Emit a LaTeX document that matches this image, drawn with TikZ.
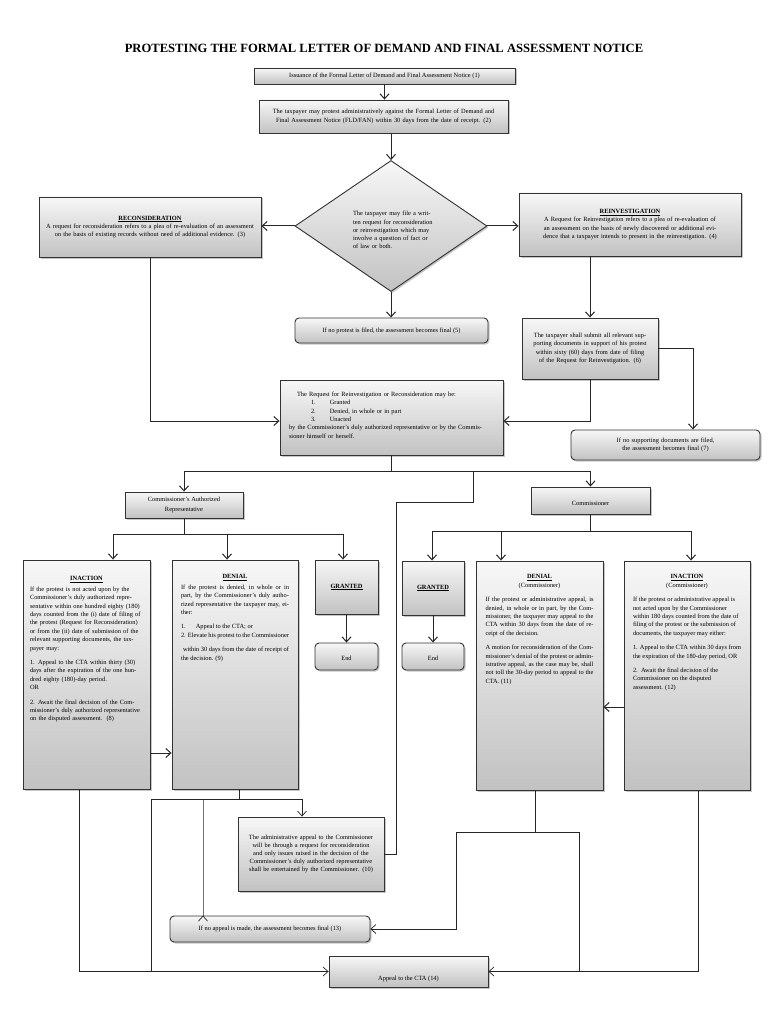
\documentclass[tikz,border=0pt]{standalone}
\usepackage{fontspec}
\setmainfont{Liberation Serif}
\usetikzlibrary{shapes.geometric,shadows,arrows.meta}
\begin{document}
\begin{tikzpicture}[x=1pt,y=-1pt,
  box/.style={draw=black!80,line width=0.9pt,shading=axis,top color=gray!6,bottom color=gray!48,
    drop shadow={opacity=0.45,shadow xshift=1.5pt,shadow yshift=-1.5pt},inner sep=0pt},
  rbox/.style={box,rounded corners=4pt},
  txt/.style={font=\fontsize{6.4}{8.2}\selectfont,align=center,inner sep=0pt},
  jtxt/.style={font=\fontsize{6.4}{8.4}\selectfont,align=justify,inner sep=0pt,anchor=north},
  ltxt/.style={font=\fontsize{6.4}{8.4}\selectfont,align=left,inner sep=0pt,anchor=north},
  arr/.style={-{Straight Barb[length=5pt,width=9pt]},line width=1pt,black!85},
  ln/.style={line width=1pt,black!85},
  tarr/.style={-{Straight Barb[length=5pt,width=9pt]},line width=0.7pt,black!85},
  tln/.style={line width=0.7pt,black!85}]
\useasboundingbox (0,0) rectangle (768,1024);
\node[font=\fontsize{12.6}{14}\selectfont\bfseries] (title) at (384,48) {PROTESTING THE FORMAL LETTER OF DEMAND AND FINAL ASSESSMENT NOTICE};

\node[box,minimum width=261,minimum height=16] (b1) at (384.5,76) {};
\node[txt] at (b1) {Issuance of the Formal Letter of Demand and Final Assessment Notice (1)};
\node[box,minimum width=249,minimum height=33] (b2) at (383.5,116.5) {};
\node[txt,text width=236] at (b2) {The taxpayer may protest administratively against the Formal Letter of Demand and Final Assessment Notice (FLD/FAN) within 30 days from the date of receipt. (2)};
\node[shape=diamond,aspect=1.47,minimum width=192,minimum height=131,box] (dia) at (391,226) {};
\node[txt,text width=80,align=left] at (393,230) {The taxpayer may file a written request for reconsideration or reinvestigation which may involve a question of fact or of law or both.};
\node[box,minimum width=222,minimum height=60] (recon) at (150,227) {};
\node[txt,text width=212] at (recon) {\underline{\textbf{RECONSIDERATION}}\\A request for reconsideration refers to a plea of re-evaluation of an assessment on the basis of existing records without need of additional evidence. (3)};
\node[box,minimum width=222,minimum height=63] (reinv) at (630,224.5) {};
\node[txt,text width=175] at (reinv) {\underline{\textbf{REINVESTIGATION}}\\A Request for Reinvestigation refers to a plea of re-evaluation of an assessment on the basis of newly discovered or additional evidence that a taxpayer intends to present in the reinvestigation. (4)};
\node[rbox,minimum width=193,minimum height=25] (b5) at (391.5,330.5) {};
\node[txt] at (b5) {If no protest is filed, the assessment becomes final (5)};
\node[box,minimum width=136,minimum height=61] (b6) at (590,348.5) {};
\node[txt,text width=126] at (b6) {The taxpayer shall submit all relevant supporting documents in support of his protest within sixty (60) days from date of filing of the Request for Reinvestigation. (6)};
\node[rbox,minimum width=189,minimum height=30] (b7) at (665.5,445) {};
\node[txt,text width=180] at (b7) {If no supporting documents are filed, the assessment becomes final (7)};
\node[box,minimum width=223,minimum height=75] (may) at (391.5,417.5) {};
\node[ltxt,text width=205] at ([yshift=-12]may.north) {\hspace*{8pt}The Request for Reinvestigation or Reconsideration may be:\\
\hspace*{22pt}1.\hspace{14pt}Granted\\
\hspace*{22pt}2.\hspace{14pt}Denied, in whole or in part\\
\hspace*{22pt}3.\hspace{14pt}Unacted\\
by the Commissioner's duly authorized representative or by the Commissioner himself or herself.};

\node[box,minimum width=118,minimum height=26] (car) at (184,505) {};
\node[txt] at (car) {Commissioner's Authorized\\[2pt]Representative};
\node[box,minimum width=119,minimum height=27] (comm) at (590.5,500.5) {};
\node[txt] at ([yshift=-3]comm) {Commissioner};

\node[box,minimum width=127,minimum height=229] (ina1) at (86.5,674.5) {};
\node[ltxt,text width=113] at ([yshift=-17]ina1.north) {\centerline{\underline{\textbf{INACTION}}}\\[2pt]If the protest is not acted upon by the Commissioner's duly authorized representative within one hundred eighty (180) days counted from the (i) date of filing of the protest (Request for Reconsideration) or from the (ii) date of submission of the relevant supporting documents, the taxpayer may:\\[6pt]1. Appeal to the CTA within thirty (30) days after the expiration of the one hundred eighty (180)-day period.\\OR\\[6pt]2. Await the final decision of the Commissioner's duly authorized representative on the disputed assessment.\ \ (8)};
\node[box,minimum width=126,minimum height=229] (den1) at (235,674.5) {};
\node[jtxt,text width=108] at ([yshift=-15]den1.north) {\centerline{\underline{\textbf{DENIAL}}}\\[2pt]If the protest is denied, in whole or in part, by the Commissioner's duly authorized representative the taxpayer may, either:\\[6pt]1.\hspace{10pt}Appeal to the CTA; or\\2. Elevate his protest to the Commissioner\\[6pt]\hspace*{2pt}within 30 days from the date of receipt of the decision. (9)};
\node[box,minimum width=63,minimum height=54] (gr1) at (346.5,587) {};
\node[txt] at (gr1) {\underline{\textbf{GRANTED}}};
\node[rbox,minimum width=63,minimum height=27] (end1) at (346.5,656.5) {};
\node[txt] at ([yshift=-2]end1) {End};
\node[box,minimum width=62,minimum height=54] (gr2) at (433,588) {};
\node[txt] at (gr2) {\underline{\textbf{GRANTED}}};
\node[rbox,minimum width=62,minimum height=27] (end2) at (433,656.5) {};
\node[txt] at ([yshift=-2]end2) {End};
\node[box,minimum width=127,minimum height=229] (den2) at (539.5,675.5) {};
\node[jtxt,text width=108] at ([yshift=-14]den2.north) {\centerline{\underline{\textbf{DENIAL}}}\\\centerline{(Commissioner)}\\[6pt]If the protest or administrative appeal, is denied, in whole or in part, by the Commissioner, the taxpayer may appeal to the CTA within 30 days from the date of receipt of the decision.\\[6pt]A motion for reconsideration of the Commissioner's denial of the protest or administrative appeal, as the case may be, shall not toll the 30-day period to appeal to the CTA. (11)};
\node[box,minimum width=126,minimum height=229] (ina2) at (687,675.5) {};
\node[jtxt,text width=108] at ([yshift=-14]ina2.north) {\centerline{\underline{\textbf{INACTION}}}\\\centerline{(Commissioner)}\\[6pt]If the protest or administrative appeal is not acted upon by the Commissioner within 180 days counted from the date of filing of the protest or the submission of documents, the taxpayer may either:\\[6pt]{\raggedright 1. Appeal to the CTA within 30 days from the expiration of the 180-day period, OR\\[6pt]2.\ \ Await the final decision of the Commissioner on the disputed assessment. (12)\par}};

\node[box,minimum width=146,minimum height=74] (b10) at (311,854) {};
\node[txt,text width=128] at (b10) {The administrative appeal to the Commissioner will be through a request for reconsideration and only issues raised in the decision of the Commissioner's duly authorized representative shall be entertained by the Commissioner. (10)};
\node[rbox,minimum width=200,minimum height=26] (b13) at (270,929) {};
\node[txt] at (b13) {If no appeal is made, the assessment becomes final (13)};
\node[box,minimum width=159,minimum height=31] (cta) at (408.5,971.5) {};
\node[txt] at ([yshift=-7]cta) {Appeal to the CTA (14)};

% connectors top
\draw[arr] (b1.south) -- (b1.south |- b2.north);
\draw[arr] (b2.south -| dia.north) -- (dia.north);
\draw[arr] (dia.west) -- (dia.west -| recon.east);
\draw[arr] (dia.east) -- (dia.east -| reinv.west);
\draw[arr] (dia.south) -- (dia.south |- b5.north);
\draw[arr] (b6.north |- reinv.south) -- (b6.north);
\coordinate (c7) at ([xshift=27.5]b7.north);
\draw[arr] (b6.east) -| (c7);
\draw[arr] (recon.south) |- ([yshift=-3.5]may.west);
\draw[arr] (b6.south) |- ([yshift=-3.5]may.east);
\coordinate (j1) at (391.5,471);
\draw[ln] (may.south) -- (j1);
\draw[arr] (j1) -| (car.north);
\draw[arr] (j1) -| (comm.north);
\coordinate (j1b) at (473,471);
\draw[ln] (j1b) -- (473,502) -- (396,502) -- (396,854) -- (b10.east);
% CAR branch
\coordinate (j2) at (184,534);
\draw[ln] (car.south) -- (j2);
\draw[arr] (j2) -| ([xshift=26.5]ina1.north);
\draw[arr] (j2) -| ([xshift=-8]den1.north);
\draw[arr] (j2) -| ([xshift=-3.5]gr1.north);
\draw[arr] (gr1.south) -- (end1.north);
\draw[arr] ([yshift=-78.5]ina1.east) -- ([yshift=-78.5]den1.west);
% Commissioner branch
\coordinate (j3) at (590.5,531);
\draw[ln] (comm.south) -- (j3);
\draw[arr] (j3) -| ([xshift=-1]gr2.north);
\draw[arr] (j3) -| ([xshift=-38.5]den2.north);
\draw[arr] (j3) -| ([xshift=4]ina2.north);
\draw[arr] (gr2.south) -- (end2.north);
\draw[arr] ([yshift=-31.5]ina2.west) -- ([yshift=-31.5]den2.east);
% bottom
\draw[tarr] ([xshift=-7.5]ina1.south) |- (cta.west);
\coordinate (j4) at (239,799);
\draw[tln] ([xshift=4]den1.south) -- (j4);
\draw[tln] (151,799) -- (j4);
\draw[tarr] (j4) -| ([xshift=-9]b10.north);
\draw[tarr] (203,799) -- (203,916) -- (b13.north -| 203,0);
\draw[tln] (151,799) -- (151,971.5);
\coordinate (j5) at (535,832);
\draw[tln] ([xshift=-4.5]den2.south) -- (j5);
\draw[tln] (j5) -- (456,832);
\draw[tarr] (456,832) |- (b13.east);
\draw[tln] (j5) -- (579,832) -- (579,971.5);
\draw[tarr] ([xshift=11]ina2.south) |- (cta.east);
\end{tikzpicture}
\end{document}
